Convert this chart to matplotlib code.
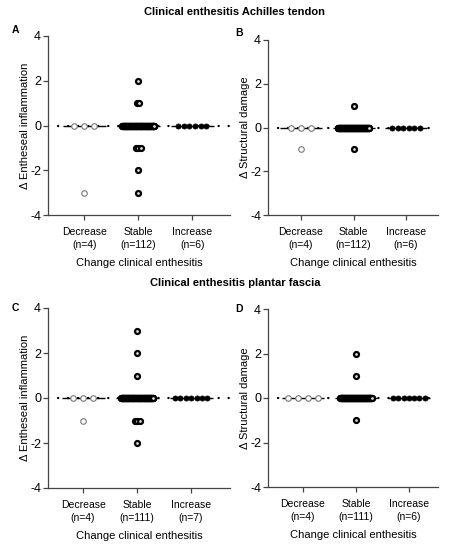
import numpy as np
import matplotlib
matplotlib.use("Agg")
import matplotlib.pyplot as plt

plt.rcParams['font.family'] = ['Liberation Sans', 'DejaVu Sans']

# ---------------- data ----------------
groups = ["Decrease", "Stable", "Increase"]
title_top = "Clinical enthesitis Achilles tendon"
title_bottom = "Clinical enthesitis plantar fascia"
xlabel = "Change clinical enthesitis"
ylabel_infl = "\u0394 Entheseal inflammation"
ylabel_struct = "\u0394 Structural damage"
yticks = [-4, -2, 0, 2, 4]

n_A = [4, 112, 6]
n_B = [4, 112, 6]
n_C = [4, 111, 7]
n_D = [4, 111, 6]

# panel A: values and counts per group
a_dec_vals, a_dec_counts = [0, -3], [3, 1]
a_sta_vals, a_sta_counts = [2, 1, 0, -1, -2, -3], [1, 2, 104, 3, 1, 1]
a_inc_vals, a_inc_counts = [0], [6]
# panel B
b_dec_vals, b_dec_counts = [0, -1], [3, 1]
b_sta_vals, b_sta_counts = [1, 0, -1], [1, 110, 1]
b_inc_vals, b_inc_counts = [0], [6]
# panel C
c_dec_vals, c_dec_counts = [0, -1], [3, 1]
c_sta_vals, c_sta_counts = [3, 2, 1, 0, -1, -2], [1, 1, 1, 104, 3, 1]
c_inc_vals, c_inc_counts = [0], [7]
# panel D
d_dec_vals, d_dec_counts = [0], [4]
d_sta_vals, d_sta_counts = [2, 1, 0, -1], [1, 1, 108, 1]
d_inc_vals, d_inc_counts = [0], [7]

medians_A = [0, 0, 0]
medians_B = [0, 0, 0]
medians_C = [0, 0, 0]
medians_D = [0, 0, 0]

# ---------------- drawing ----------------
W, H = 449, 550
fig = plt.figure(figsize=(W / 100, H / 100), dpi=100)

def rect(l, r, t, b):
    return [l / W, 1 - b / H, (r - l) / W, (b - t) / H]

FS = 7.5
STEP = [0.19, 0.045, 0.105]
MAXHALF = 0.3

def offsets(n, step):
    off = (np.arange(n) - (n - 1) / 2) * step
    m = np.abs(off).max() if n > 1 else 0
    if m > MAXHALF:
        off = off * MAXHALF / m
    return off

def panel(r, ylabel, ns, data, medians, xlim):
    ax = fig.add_axes(r)
    ax.set_xlim(*xlim)
    ax.set_ylim(-4, 4)
    ax.axhline(0, color='black', lw=1.7, ls=(0, (0.05, 4.2)), zorder=1,
               dash_capstyle='round')
    for gi, (vals, counts) in enumerate(data):
        ax.plot([gi - 0.4, gi + 0.4], [medians[gi]] * 2, color='black',
                lw=1.0, zorder=2, solid_capstyle='butt')
        for v, c in zip(vals, counts):
            xs = gi + offsets(c, STEP[gi])
            ys = np.full(c, v)
            if gi == 0:
                ax.plot(xs, ys, 'o', ms=4.0, mfc='white', mec='#777777',
                        mew=0.8, zorder=3, ls='none')
            elif gi == 1:
                ax.plot(xs, ys, 'o', ms=3.6, mfc='#dddddd', mec='black',
                        mew=1.6, zorder=3, ls='none')
            else:
                ax.plot(xs, ys, 'o', ms=3.7, mfc='black', mec='black',
                        mew=0.5, zorder=3, ls='none')
    ax.set_yticks(yticks)
    ax.set_yticklabels([str(t) for t in yticks], fontsize=9)
    ax.set_xticks(range(3))
    ax.set_xticklabels([f"{g}\n(n={n})" for g, n in zip(groups, ns)],
                       fontsize=FS, linespacing=1.35)
    for s in ['top', 'right']:
        ax.spines[s].set_visible(False)
    for s in ['left', 'bottom']:
        ax.spines[s].set_color('#444444')
        ax.spines[s].set_linewidth(0.9)
    ax.tick_params(axis='both', length=3.5, width=0.9, color='#444444',
                   pad=1.5)
    ax.tick_params(axis='x', pad=5)
    ax.set_ylabel(ylabel, fontsize=FS + 0.5, labelpad=0)
    ax.set_xlabel(xlabel, fontsize=FS + 0.5, labelpad=6)
    return ax

panel(rect(48, 230, 36, 215), ylabel_infl, n_A,
      [(a_dec_vals, a_dec_counts), (a_sta_vals, a_sta_counts),
       (a_inc_vals, a_inc_counts)], medians_A, (-0.67, 2.7))
panel(rect(268, 438, 40, 215), ylabel_struct, n_B,
      [(b_dec_vals, b_dec_counts), (b_sta_vals, b_sta_counts),
       (b_inc_vals, b_inc_counts)], medians_B, (-0.63, 2.61))
panel(rect(48, 230, 308, 488), ylabel_infl, n_C,
      [(c_dec_vals, c_dec_counts), (c_sta_vals, c_sta_counts),
       (c_inc_vals, c_inc_counts)], medians_C, (-0.65, 2.72))
panel(rect(268, 438, 309, 487), ylabel_struct, n_D,
      [(d_dec_vals, d_dec_counts), (d_sta_vals, d_sta_counts),
       (d_inc_vals, d_inc_counts)], medians_D, (-0.66, 2.55))

fig.text(235 / W, 1 - 12 / H, title_top, ha='center', va='center',
         fontsize=FS + 0.5, fontweight='bold')
fig.text(235 / W, 1 - 283 / H, title_bottom, ha='center', va='center',
         fontsize=FS + 0.5, fontweight='bold')
for lab, x, y in [('A', 15, 30), ('B', 239, 33), ('C', 15, 308), ('D', 239, 309)]:
    fig.text(x / W, 1 - y / H, lab, ha='center', va='center',
             fontsize=FS, fontweight='bold')

fig.savefig("out.png", dpi=100)
